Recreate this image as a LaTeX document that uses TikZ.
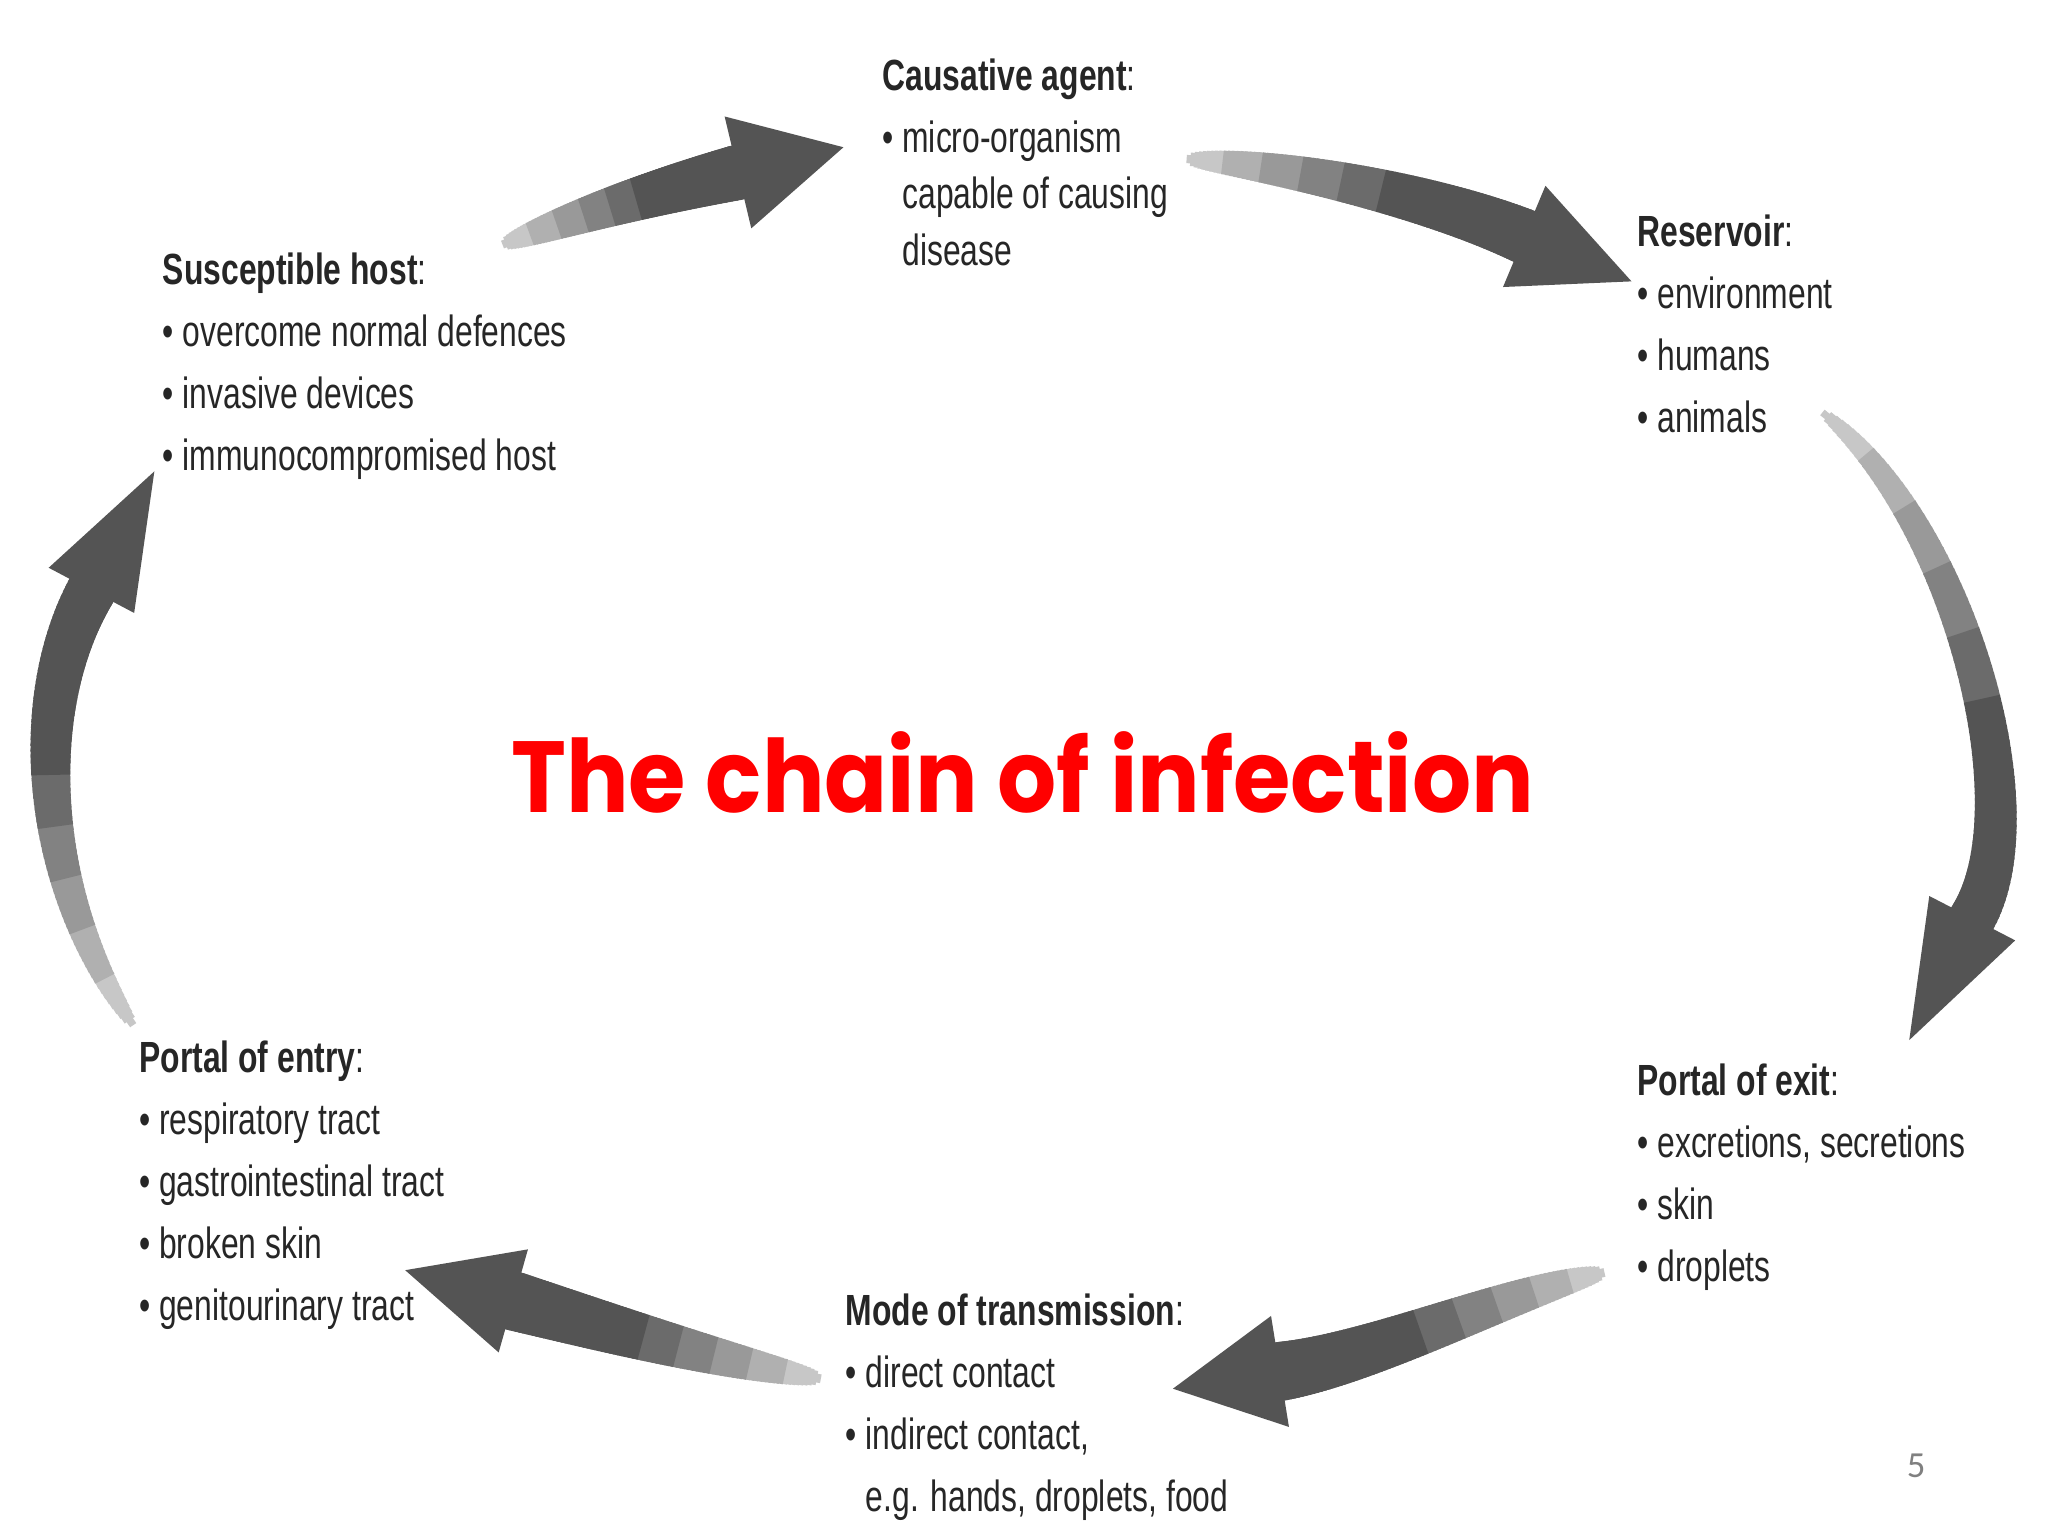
\documentclass[tikz,border=0pt]{standalone}
\usepackage{fontspec}
\setmainfont{Liberation Sans}[FakeStretch=0.73]
\newfontfamily\titlefont{Poppins}[FakeStretch=0.92]
\newfontfamily\numfont{Carlito}
\usetikzlibrary{calc}

\tikzset{
  block/.style={anchor=north west, inner sep=0pt, align=left, text=black!85,
                font=\fontsize{9.5}{13.5}\selectfont},
  bandstep/.style={rectangle, sloped, inner sep=0pt, outer sep=0pt, draw=none,
                   minimum width=0.07cm}
}
\newcommand\itm{\textbullet\hspace{0.2em}}
\newcommand\chainarrow[7]{%
  \foreach \i in {0,...,80}{
    \pgfmathsetmacro\p{\i/80}
    \pgfmathtruncatemacro\k{22+9*min(5,int(\p*9))}
    \pgfmathsetmacro\w{(0.15+0.85*sqrt(\p))*#5}
    \path (#1) .. controls #2 and #3 .. (#4)
      node[bandstep, pos=\p, fill=black!\k, minimum height=\w cm] {};
  }
  \path (#1) .. controls #2 and #3 .. (#4) coordinate[pos=0.96] (#4-back);
  \fill[black!67] ($(#4)!#6!90:(#4-back)$) -- ($(#4)!-#7!(#4-back)$)
    -- ($(#4)!#6!-90:(#4-back)$) -- cycle;
}

\begin{document}
\begin{tikzpicture}[x=0.01cm, y=-0.01cm]
  \fill[white] (0,0) rectangle (1568,1176);
  \useasboundingbox (0,0) rectangle (1568,1176);

  \node[block] (agent) at (675,44) {\textbf{Causative agent}:\\
    \itm micro-organism\\[-1.2pt]
    \hphantom{\itm}capable of causing\\[-1.2pt]
    \hphantom{\itm}disease};
  \node[block] (reservoir) at (1253,164) {\textbf{Reservoir}:\\
    \itm environment\\ \itm humans\\ \itm animals};
  \node[block] (exit) at (1253,814) {\textbf{Portal of exit}:\\
    \itm excretions, secretions\\ \itm skin\\ \itm droplets};
  \node[block] (mode) at (647,990) {\textbf{Mode of transmission}:\\
    \itm direct contact\\ \itm indirect contact,\\
    \hphantom{\itm}e.g. hands, droplets, food};
  \node[block] (entry) at (106,796) {\textbf{Portal of entry}:\\
    \itm respiratory tract\\ \itm gastrointestinal tract\\
    \itm broken skin\\ \itm genitourinary tract};
  \node[block] (host) at (124,193) {\textbf{Susceptible host}:\\
    \itm overcome normal defences\\ \itm invasive devices\\
    \itm immunocompromised host};

  \node[anchor=base, text=red, font=\titlefont\bfseries\fontsize{22}{26}\selectfont]
    (title) at (783,622) {The chain of infection};
  \node[text=black!50, font=\numfont\fontsize{8}{9}\selectfont] (pagenum) at (1467,1122) {5};

  \coordinate (host-out) at (388,186);
  \coordinate (agent-in) at (565,132);
  \coordinate (agent-out) at (912,122);
  \coordinate (res-in) at (1167,181);
  \coordinate (res-out) at (1398,318);
  \coordinate (exit-in) at (1510,703);
  \coordinate (exit-out) at (1225,975);
  \coordinate (mode-in) at (980,1050);
  \coordinate (mode-out) at (625,1055);
  \coordinate (entry-in) at (393,996);
  \coordinate (entry-out) at (100,782);
  \coordinate (host-in) at (70,452);

  \chainarrow{host-out}{(450,162)}{(510,145)}{agent-in}{0.42}{0.44cm}{0.83cm}
  \chainarrow{agent-out}{(990,128)}{(1100,152)}{res-in}{0.42}{0.42cm}{0.89cm}
  \chainarrow{res-out}{(1500,400)}{(1560,620)}{exit-in}{0.36}{0.37cm}{1.05cm}
  \chainarrow{exit-out}{(1150,992)}{(1050,1040)}{mode-in}{0.45}{0.43cm}{0.83cm}
  \chainarrow{mode-out}{(545,1040)}{(460,1015)}{entry-in}{0.45}{0.41cm}{0.86cm}
  \chainarrow{entry-out}{(30,680)}{(20,540)}{host-in}{0.38}{0.37cm}{1.03cm}
\end{tikzpicture}
\end{document}
